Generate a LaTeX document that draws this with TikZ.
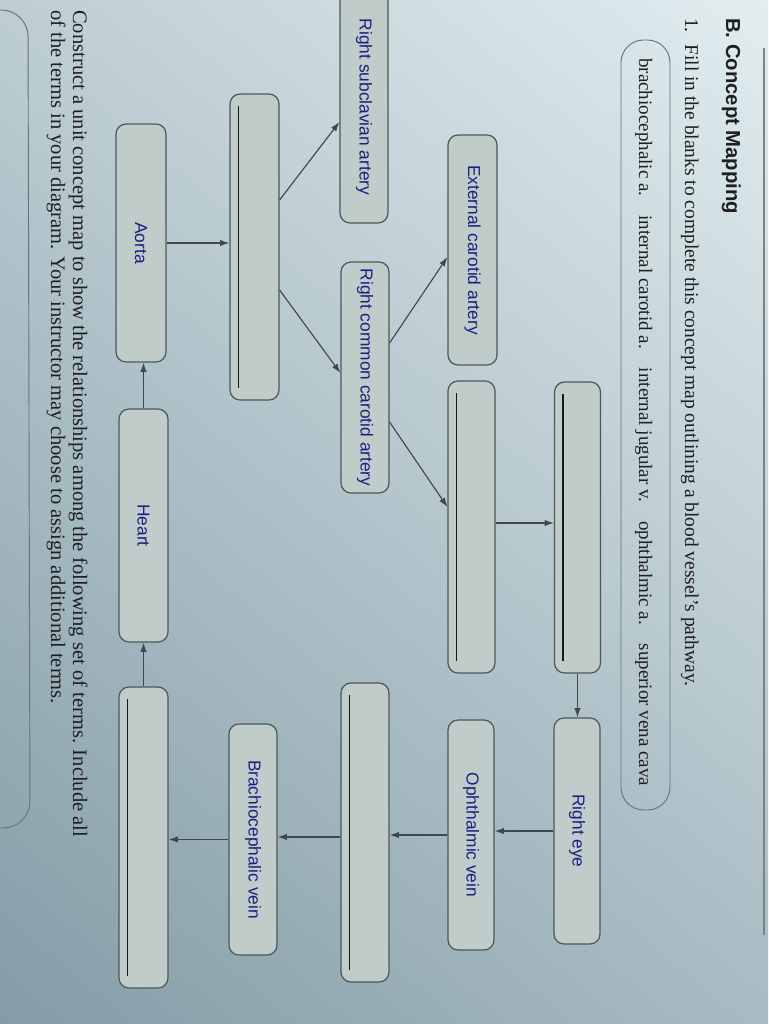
\documentclass[tikz,border=0pt]{standalone}
\usepackage{fontspec}
\setmainfont{Liberation Serif}
\setsansfont{Liberation Sans}
\usetikzlibrary{arrows.meta,calc}
\definecolor{bgA}{HTML}{E6F1F3}
\definecolor{bgM}{HTML}{BCD3DA}
\definecolor{bgB}{HTML}{7F98A3}
\definecolor{boxfill}{HTML}{C0CCC9}
\definecolor{boxline}{HTML}{4E5757}
\definecolor{arrline}{HTML}{404849}
\definecolor{navy}{HTML}{1E1E80}
\definecolor{frameline}{HTML}{65747A}
\begin{document}
\begin{tikzpicture}[x=0.75pt,y=-0.75pt,
  box/.style={draw=boxline, fill=boxfill, rounded corners=7.5pt, line width=0.9pt, inner sep=0pt},
  arr/.style={draw=arrline, line width=0.85pt, -{Latex[length=7pt,width=4.8pt]}},
  blankline/.style={draw=black!90, line width=0.9pt},
  rtext/.style={anchor=base west, rotate=-90, inner sep=0pt, text=black!88},
  frame/.style={draw=frameline, line width=0.7pt}]
\newcommand{\lab}[1]{\rotatebox{-90}{\sffamily\fontsize{13}{15}\selectfont\color{navy}#1}}
\useasboundingbox (0,0) rectangle (768,1024);
\clip (0,0) rectangle (768,1024);
\shade[shading=axis, top color=bgA, middle color=bgM, bottom color=bgB, shading angle=-40] (-250,-250) rectangle (1018,1274);

% page edge
\draw[draw=black!50, line width=1pt] (764,48) -- (764,935);

% header texts
\node[rtext, font=\sffamily\bfseries\fontsize{15.2}{18}\selectfont] (head) at (726,18) {B. Concept Mapping};
\node[rtext, font=\fontsize{14.6}{17}\selectfont] (instr) at (685,18) {1.\hspace{0.6em}Fill in the blanks to complete this concept map outlining a blood vessel's pathway.};

% terms
\node[frame, rounded corners=17pt, minimum width=36.75pt, minimum height=577.5pt] (termbox) at (645.5,425) {};
\node[rtext, font=\fontsize{14.25}{17}\selectfont] (terms) at (639,58) {brachiocephalic a.\hspace{1em}internal carotid a.\hspace{1em}internal jugular v.\hspace{1em}ophthalmic a.\hspace{1em}superior vena cava};

% boxes
\node[box, minimum width=36pt, minimum height=184.5pt] (rsa) at (364,100) {\lab{\hspace*{10.5pt}Right subclavian artery}};
\node[box, minimum width=36.75pt, minimum height=172.5pt] (ext) at (472.5,250) {\lab{External carotid artery}};
\node[box, minimum width=36pt, minimum height=173.25pt] (rcc) at (365,377.5) {\lab{Right common carotid artery}};
\node[box, minimum width=35.25pt, minimum height=219pt] (b2) at (471.5,527) {};
\node[box, minimum width=34.5pt, minimum height=218.25pt] (b3) at (577.5,527.5) {};
\node[box, minimum width=34.5pt, minimum height=169.5pt] (eye) at (577,831) {\lab{Right eye}};
\node[box, minimum width=34.5pt, minimum height=172.5pt] (ov) at (471,835) {\lab{Ophthalmic vein}};
\node[box, minimum width=36pt, minimum height=224.25pt] (b4) at (365,832.5) {};
\node[box, minimum width=36pt, minimum height=173.25pt] (bv) at (253,839.5) {\lab{Brachiocephalic vein}};
\node[box, minimum width=36.75pt, minimum height=225.75pt] (b5) at (143.5,837.5) {};
\node[box, minimum width=36.75pt, minimum height=174.75pt] (heart) at (143.5,525.5) {\lab{Heart}};
\node[box, minimum width=37.5pt, minimum height=178.5pt] (aorta) at (141,243) {\lab{Aorta}};
\node[box, minimum width=36.75pt, minimum height=229.5pt] (b1) at (254.5,247) {};

% blank lines
\foreach \b in {b1,b2,b3,b4,b5}
  \draw[blankline] ($(\b.north west)+(9,12.5)$) -- ($(\b.south west)+(9,-12.5)$);

% connectors
\draw[arr] (aorta.east) -- (aorta.east -| b1.west);
\draw[arr] ($(b1.east)+(0,-47)$) -- ($(rsa.west)+(0,22)$);
\draw[arr] ($(b1.east)+(0,43)$) -- ($(rcc.west)+(0,-4.5)$);
\draw[arr] ($(rcc.east)+(0,-34.5)$) -- ($(ext.west)+(0,7)$);
\draw[arr] ($(rcc.east)+(0,44.5)$) -- ($(b2.west)+(0,-20)$);
\draw[arr] ($(b2.east)+(0,-4)$) -- ($(b2.east -| b3.west)+(0,-4)$);
\draw[arr] (b3.south) -- (b3.south |- eye.north);
\draw[arr] (eye.west) -- (eye.west -| ov.east);
\draw[arr] (ov.west) -- (ov.west -| b4.east);
\draw[arr] ($(b4.west)+(0,4.5)$) -- ($(b4.west -| bv.east)+(0,4.5)$);
\draw[arr] (bv.west) -- (bv.west -| b5.east);
\draw[arr] (b5.north) -- (b5.north |- heart.south);
\draw[arr] (heart.north) -- (heart.north |- aorta.south);

% bottom section
\draw[frame] (-60,10) [rounded corners=20pt] -- (28,10) -- (30,828) -- (-60,828);
\node[rtext, font=\fontsize{15.4}{18}\selectfont] (para1) at (73,10) {Construct a unit concept map to show the relationships among the following set of terms. Include all};
\node[rtext, font=\fontsize{15.4}{18}\selectfont] (para2) at (51,10) {of the terms in your diagram. Your instructor may choose to assign additional terms.};
\end{tikzpicture}
\end{document}
